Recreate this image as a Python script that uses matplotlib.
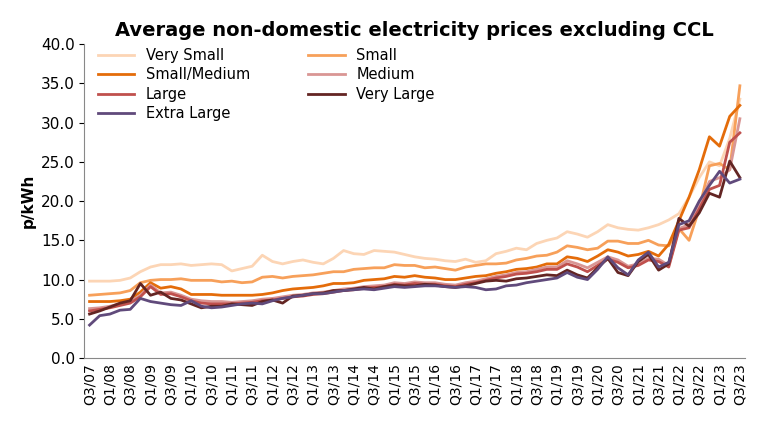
import matplotlib.pyplot as plt

# quarters Q3/07 .. Q3/23
quarters = []
for y in range(7, 24):
    for q in range(1, 5):
        if (y == 7 and q < 3) or (y == 23 and q > 3):
            continue
        quarters.append(f"Q{q}/{y:02d}")

very_small = [9.8, 9.8, 9.8, 9.9, 10.2, 11.0, 11.6, 11.9, 11.9, 12.0,
              11.8, 11.9, 12.0, 11.9, 11.1, 11.4, 11.7, 13.1, 12.3, 12.0,
              12.3, 12.5, 12.2, 12.0, 12.7, 13.7, 13.3, 13.2, 13.7, 13.6,
              13.5, 13.2, 12.9, 12.7, 12.6, 12.4, 12.3, 12.6, 12.2, 12.4,
              13.3, 13.6, 14.0, 13.8, 14.6, 15.0, 15.3, 16.1, 15.8, 15.4,
              16.1, 17.0, 16.6, 16.4, 16.3, 16.6, 17.0, 17.6, 18.4, 20.5,
              23.0, 25.0, 24.5, 28.0, 33.0]
small = [8.0, 8.1, 8.2, 8.3, 8.6, 9.6, 9.9, 10.0, 10.0, 10.1,
         9.9, 9.9, 9.9, 9.7, 9.8, 9.6, 9.7, 10.3, 10.4, 10.2,
         10.4, 10.5, 10.6, 10.8, 11.0, 11.0, 11.3, 11.4, 11.5, 11.5,
         11.9, 11.8, 11.8, 11.5, 11.6, 11.4, 11.2, 11.6, 11.8, 12.0,
         12.0, 12.1, 12.5, 12.7, 13.0, 13.1, 13.5, 14.3, 14.1, 13.8,
         14.0, 14.9, 14.9, 14.6, 14.6, 15.0, 14.4, 14.3, 16.5, 15.0,
         19.0, 24.5, 24.8, 24.0, 34.7]
small_medium = [7.2, 7.2, 7.2, 7.3, 7.5, 8.4, 9.6, 8.9, 9.1, 8.8,
                8.1, 8.1, 8.1, 8.0, 8.0, 8.0, 8.0, 8.1, 8.3, 8.6,
                8.8, 8.9, 9.0, 9.2, 9.5, 9.5, 9.6, 9.9, 10.0, 10.1,
                10.4, 10.3, 10.5, 10.3, 10.2, 10.0, 10.0, 10.2, 10.4, 10.5,
                10.8, 11.0, 11.3, 11.4, 11.6, 12.0, 12.0, 12.9, 12.7, 12.3,
                13.0, 13.8, 13.5, 13.0, 13.2, 13.6, 13.0, 14.5, 17.5, 20.5,
                24.0, 28.2, 27.0, 30.8, 32.2]
medium = [6.3, 6.4, 6.6, 6.9, 7.2, 8.0, 9.3, 8.3, 8.4, 8.0,
          7.5, 7.3, 7.2, 7.2, 7.1, 7.2, 7.3, 7.5, 7.6, 7.8,
          8.0, 8.1, 8.3, 8.4, 8.6, 8.8, 8.9, 9.1, 9.2, 9.3,
          9.6, 9.5, 9.7, 9.6, 9.6, 9.4, 9.3, 9.6, 9.8, 10.1,
          10.4, 10.6, 10.9, 11.0, 11.3, 11.6, 11.6, 12.4, 12.0, 11.5,
          12.2, 12.9, 12.5, 11.7, 12.0, 12.7, 12.6, 11.8, 16.5, 17.0,
          19.5, 22.5, 23.0, 24.0, 30.5]
large = [6.0, 6.2, 6.4, 6.7, 7.0, 7.8, 9.1, 8.1, 8.2, 7.8,
         7.3, 7.0, 6.9, 6.9, 6.9, 7.0, 7.1, 7.3, 7.4, 7.6,
         7.8, 7.9, 8.1, 8.2, 8.4, 8.6, 8.7, 8.9, 9.0, 9.1,
         9.4, 9.3, 9.5, 9.4, 9.4, 9.2, 9.1, 9.4, 9.6, 9.9,
         10.2, 10.4, 10.7, 10.8, 11.0, 11.3, 11.3, 12.0, 11.6, 11.0,
         11.8, 12.6, 12.2, 11.5, 11.8, 12.5, 12.3, 11.6, 16.3, 16.6,
         19.0, 21.5, 22.0, 27.5, 28.7]
very_large = [5.6, 6.0, 6.5, 7.0, 7.3, 9.5, 8.0, 8.4, 7.6, 7.4,
              6.9, 6.4, 6.6, 6.6, 6.9, 6.8, 6.7, 7.2, 7.4, 7.0,
              7.9, 8.0, 8.2, 8.3, 8.6, 8.6, 8.8, 9.0, 8.8, 9.1,
              9.3, 9.2, 9.2, 9.4, 9.3, 9.1, 9.0, 9.2, 9.5, 9.8,
              9.9, 9.8, 10.1, 10.2, 10.4, 10.6, 10.5, 11.2, 10.6, 10.2,
              11.5, 12.7, 10.9, 10.5, 12.3, 13.2, 11.2, 12.0, 17.8, 16.8,
              18.5, 21.0, 20.5, 25.1, 23.0]
extra_large = [4.2, 5.4, 5.6, 6.1, 6.2, 7.6, 7.2, 7.0, 6.8, 6.7,
               7.3, 6.6, 6.4, 6.5, 6.7, 6.9, 7.0, 6.9, 7.3, 7.6,
               7.8, 8.0, 8.2, 8.2, 8.4, 8.6, 8.7, 8.8, 8.7, 8.9,
               9.1, 9.0, 9.1, 9.2, 9.2, 9.1, 9.0, 9.1, 9.0, 8.7,
               8.8, 9.2, 9.3, 9.6, 9.8, 10.0, 10.2, 10.9, 10.3, 10.0,
               11.3, 12.9, 11.5, 10.6, 12.5, 13.5, 11.6, 12.2, 17.0, 17.5,
               20.0, 22.0, 23.8, 22.3, 22.8]

series = [
    ("Very Small", very_small, "#fcd5b5"),
    ("Small", small, "#f7a05a"),
    ("Small/Medium", small_medium, "#e46c0a"),
    ("Medium", medium, "#d99694"),
    ("Large", large, "#c0504d"),
    ("Very Large", very_large, "#632523"),
    ("Extra Large", extra_large, "#604a7b"),
]

fig, ax = plt.subplots(figsize=(7.68, 4.42), dpi=100)
x = range(len(quarters))
lines = []
for name, vals, col in series:
    ln, = ax.plot(x, vals, color=col, lw=2, label=name)
    lines.append(ln)

ax.set_title("Average non-domestic electricity prices excluding CCL",
             fontweight="bold", fontsize=14)
ax.set_ylabel("p/kWh", fontweight="bold", fontsize=11)
ax.set_ylim(0, 40)
ax.set_yticks(range(0, 41, 5))
ax.set_yticklabels([f"{v:.1f}" for v in range(0, 41, 5)], fontsize=11)
ax.set_xlim(-0.5, len(quarters) - 0.5)
ax.set_xticks(list(x)[::2])
ax.set_xticklabels(quarters[::2], rotation=90, fontsize=10)
ax.tick_params(axis="x", length=0)
for s in ["top", "right"]:
    ax.spines[s].set_visible(False)
for s in ["left", "bottom"]:
    ax.spines[s].set_color("#888888")

# row-major legend order
order = [0, 2, 4, 6, 1, 3, 5]
ax.legend([lines[i] for i in order], [series[i][0] for i in order],
          ncol=2, frameon=False, loc="upper left", fontsize=10.5,
          bbox_to_anchor=(0.0, 1.03), columnspacing=4, handlelength=2.5,
          labelspacing=0.3)
fig.subplots_adjust(left=0.11, right=0.97, top=0.9, bottom=0.19)
fig.savefig("out.png")
